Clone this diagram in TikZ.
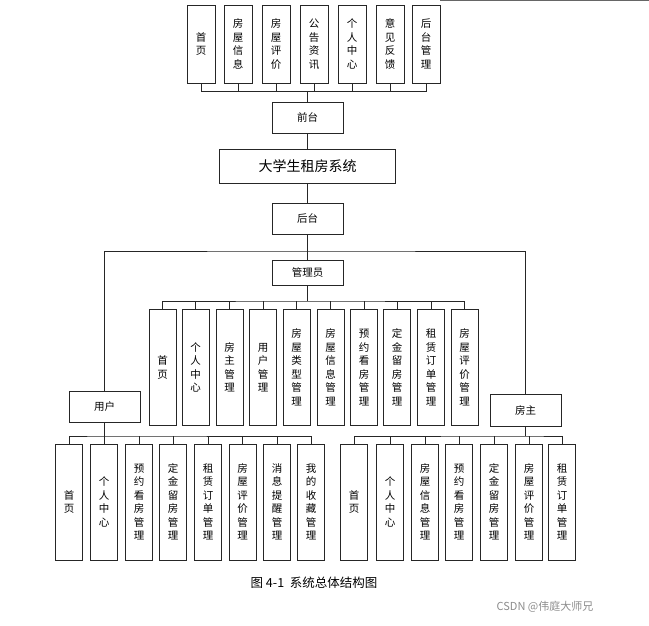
\documentclass[tikz,border=0pt]{standalone}
\usepackage{fontspec}
\newfontfamily\cjk{Noto Sans CJK SC}
\begin{document}
\begin{tikzpicture}[x=1pt,y=-1pt,
  box/.style={draw=black!85,line width=0.9pt,inner sep=0pt,align=center,font=\cjk\fontsize{10.5}{13.5}\selectfont},
  vbox/.style={box,minimum width=27pt,minimum height=116pt},
  hbox/.style={box,minimum width=71pt,minimum height=31pt},
  ln/.style={draw=black!85,line width=0.9pt}]
\useasboundingbox (0,0) rectangle (649,626);
\draw[black!60,line width=0.6pt] (440,0.5) -- (649,0.5);
% top
\foreach \x/\t [count=\i] in {201/{首\\页},238/{房\\屋\\信\\息},276/{房\\屋\\评\\价},314/{公\\告\\资\\讯},352/{个\\人\\中\\心},390/{意\\见\\反\\馈},426/{后\\台\\管\\理}}
  \node[vbox,minimum height=78pt,minimum width=28pt] (t\i) at (\x,44) {\t};
\node[hbox] (qt) at (307.5,117.5) {前台};
\node[box,minimum width=176pt,minimum height=34pt,font=\cjk\fontsize{14}{16}\selectfont] (sys) at (307.5,166) {大学生租房系统};
\node[hbox] (ht) at (307.5,218.5) {后台};
\coordinate (tb) at (307.5,91);
\foreach \i in {1,...,7} \draw[ln] (t\i.south) |- (tb);
\draw[ln] (t1.south) ++(0,8) -- ++(225,0);
\draw[ln] (qt.north) -- (tb);
\draw[ln] (qt) -- (sys);
\draw[ln] (sys) -- (ht);
% admin
\node[hbox,minimum height=25pt] (gl) at (307.5,272.5) {管理员};
\node[hbox] (yh) at (104.5,406.5) {用户};
\node[hbox,minimum height=32pt] (fz) at (525.5,410) {房主};
\coordinate (hb) at (307.5,251);
\draw[ln] (ht.south) -- (hb) -- (gl.north);
\draw[ln] (yh.north) |- (hb) -| (fz.north);
\foreach \x/\t [count=\i] in {162.5/{首\\页},195.5/{个\\人\\中\\心},229.5/{房\\主\\管\\理},263/{用\\户\\管\\理},296.5/{房\\屋\\类\\型\\管\\理},330.5/{房\\屋\\信\\息\\管\\理},364/{预\\约\\看\\房\\管\\理},397/{定\\金\\留\\房\\管\\理},431/{租\\赁\\订\\单\\管\\理},464.5/{房\\屋\\评\\价\\管\\理}}
  \node[vbox] (a\i) at (\x,367.5) {\t};
\coordinate (ab) at (307.5,301);
\draw[ln] (gl.south) -- (ab);
\draw[ln] (a1.north) |- (ab) -| (a10.north);
\foreach \i in {2,...,9} \draw[ln] (a\i.north) -- ++(0,-8);
% user
\foreach \x/\t [count=\i] in {69/{首\\页},104/{个\\人\\中\\心},139/{预\\约\\看\\房\\管\\理},173/{定\\金\\留\\房\\管\\理},208/{租\\赁\\订\\单\\管\\理},242.5/{房\\屋\\评\\价\\管\\理},277/{消\\息\\提\\醒\\管\\理},311/{我\\的\\收\\藏\\管\\理}}
  \node[vbox] (u\i) at (\x,502) {\t};
\coordinate (ub) at (104.5,436);
\draw[ln] (yh.south) -- (ub);
\draw[ln] (u1.north) |- (ub) -| (u8.north);
\foreach \i in {2,...,7} \draw[ln] (u\i.north) -- ++(0,-8);
% owner
\foreach \x/\t [count=\i] in {354/{首\\页},390/{个\\人\\中\\心},425/{房\\屋\\信\\息\\管\\理},459/{预\\约\\看\\房\\管\\理},494/{定\\金\\留\\房\\管\\理},529/{房\\屋\\评\\价\\管\\理},562/{租\\赁\\订\\单\\管\\理}}
  \node[vbox] (o\i) at (\x,502) {\t};
\coordinate (ob) at (525.5,436);
\draw[ln] (fz.south) -- (ob);
\draw[ln] (o1.north) |- (ob) -| (o7.north);
\foreach \i in {2,...,6} \draw[ln] (o\i.north) -- ++(0,-8);
\node[font=\cjk\fontsize{12.5}{14}\selectfont] (cap) at (314,583) {图 4-1\ \ 系统总体结构图};
\node[font=\cjk\fontsize{11}{13}\selectfont,text=black!45] (wm) at (545,607) {CSDN @伟庭大师兄};
\end{tikzpicture}
\end{document}
